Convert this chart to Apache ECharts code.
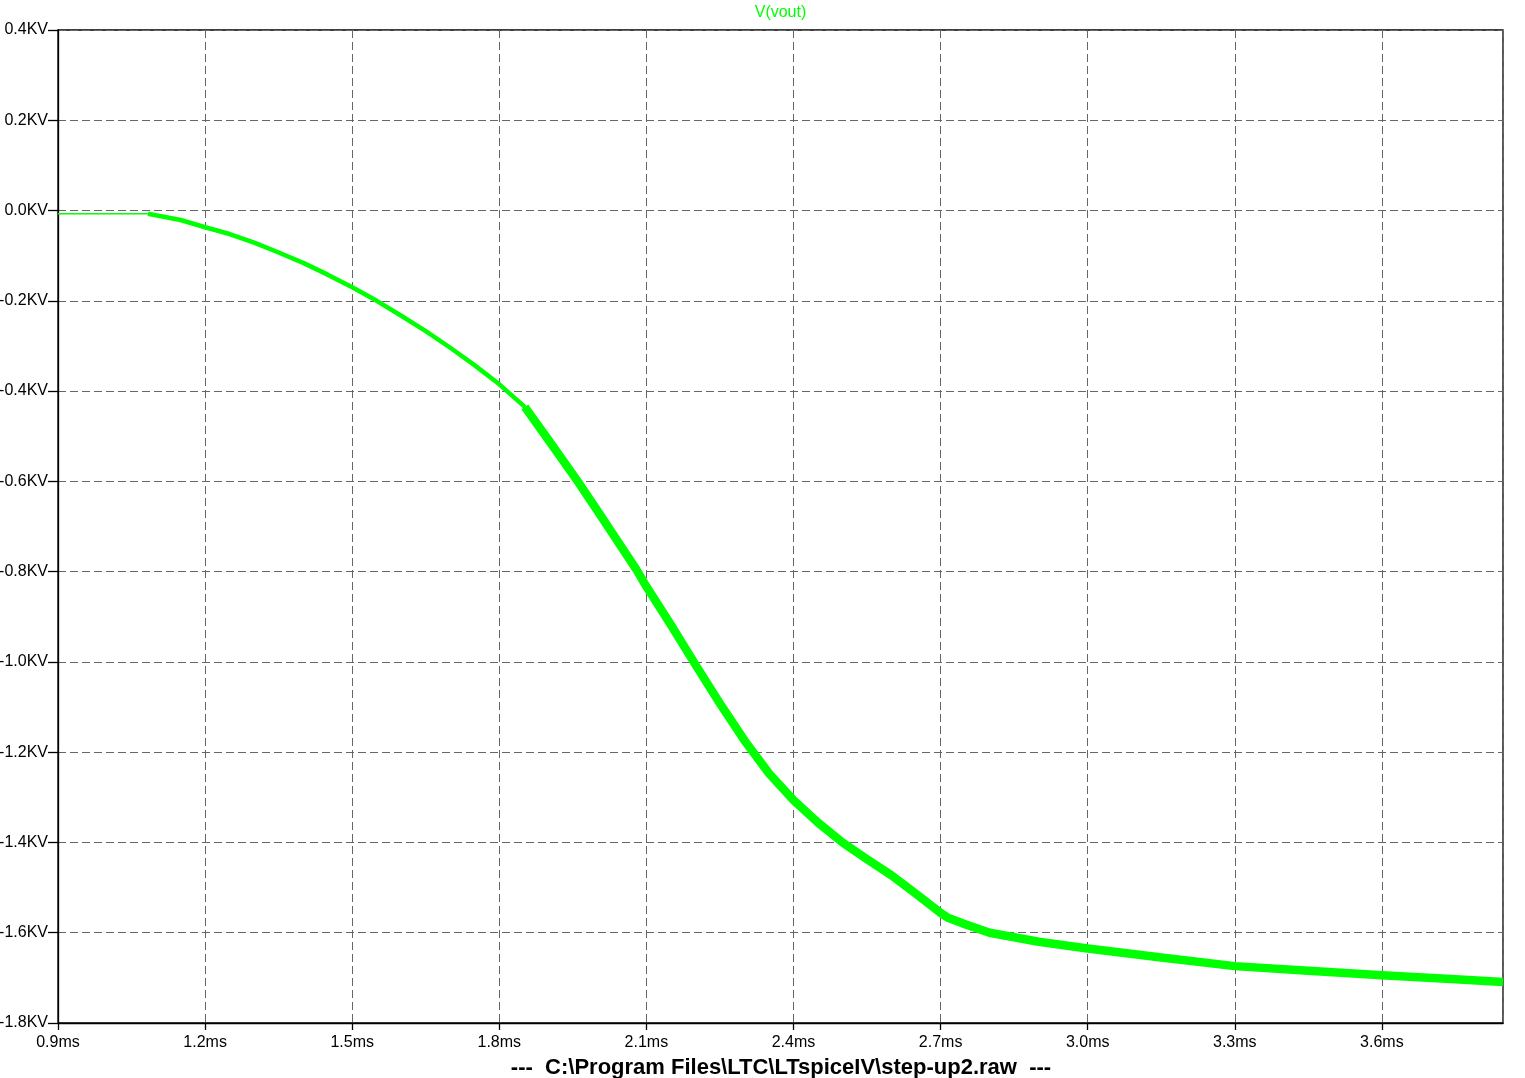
<!DOCTYPE html>
<html>
<head>
<meta charset="utf-8">
<script src="https://cdn.jsdelivr.net/npm/echarts@6/dist/echarts.min.js"></script>
<style>
html,body{margin:0;padding:0;background:#fff;}
#c{width:1525px;height:1078px;}
</style>
</head>
<body>
<div id="c"></div>
<script>
// Time (ms) and voltage (KV) values
const flatT = [0.9, 1.0835];
const flatV = [-0.007, -0.007];
const earlyT = [1.0835, 1.15, 1.2, 1.25, 1.3, 1.35, 1.4, 1.45, 1.5, 1.55, 1.6, 1.65, 1.7, 1.75, 1.8, 1.852];
const earlyV = [-0.007, -0.021, -0.037, -0.052, -0.071, -0.093, -0.116, -0.142, -0.170, -0.200, -0.233, -0.267, -0.304, -0.343, -0.385, -0.435];
const mainT = [1.852, 1.9, 1.96, 2.0, 2.05, 2.08, 2.1, 2.15, 2.2, 2.25, 2.3, 2.35, 2.4, 2.45, 2.5, 2.55, 2.6, 2.65, 2.7, 2.715, 2.75, 2.8, 2.9, 3.0, 3.15, 3.3, 3.45, 3.6, 3.75, 3.847];
const mainV = [-0.435, -0.508, -0.600, -0.665, -0.747, -0.796, -0.833, -0.918, -1.006, -1.092, -1.174, -1.247, -1.306, -1.356, -1.400, -1.437, -1.473, -1.514, -1.556, -1.567, -1.581, -1.600, -1.620, -1.635, -1.655, -1.674, -1.684, -1.694, -1.703, -1.709];
const xMin = 0.9, xMax = 3.847, xStep = 0.3;
const yMin = -1.8, yMax = 0.4, yStep = 0.2;
const titleText = 'V(vout)';
const fileText = '---  C:\\Program Files\\LTC\\LTspiceIV\\step-up2.raw  ---';

const zip = (a, b) => a.map((t, i) => [t, b[i]]);
const chart = echarts.init(document.getElementById('c'), null, {renderer: 'canvas'});
const FONT = '"Liberation Sans", Arial, sans-serif';
const green = '#00ff00';
chart.setOption({
  animation: false,
  backgroundColor: '#ffffff',
  title: [
    {text: titleText, left: 775.5, top: 0, textAlign: 'center',
     textStyle: {color: green, fontSize: 16, fontWeight: 'normal', fontFamily: FONT}},
    {text: fileText, left: 776, top: 1052, textAlign: 'center',
     textStyle: {color: '#000', fontSize: 22, fontWeight: 'bold', fontFamily: FONT}}
  ],
  grid: {left: 58, right: 22, top: 30, bottom: 55, outerBoundsMode: 'none', containLabel: false,
    show: true, borderColor: '#000', borderWidth: 1.3, backgroundColor: 'transparent'},
  xAxis: {
    type: 'value', min: xMin, max: xMax, interval: xStep,
    axisLine: {show: true, onZero: false, lineStyle: {color: '#000', width: 1.3}},
    axisTick: {show: true, length: 7, lineStyle: {color: '#000', width: 1.3}},
    axisLabel: {show: true, showMaxLabel: false, color: '#000', fontSize: 16, fontFamily: FONT, margin: 12,
      formatter: v => v.toFixed(1) + 'ms'},
    splitLine: {show: true, lineStyle: {color: '#666', type: [8, 4], width: 1}}
  },
  yAxis: {
    type: 'value', min: yMin, max: yMax, interval: yStep,
    axisLine: {show: true, onZero: false, lineStyle: {color: '#000', width: 1.3}},
    axisTick: {show: true, length: 10, lineStyle: {color: '#000', width: 1.3}},
    axisLabel: {show: true, color: '#000', fontSize: 16, fontFamily: FONT, margin: 10,
      formatter: v => (Math.abs(v) < 1e-9 ? 0 : v).toFixed(1) + 'KV'},
    splitLine: {show: true, lineStyle: {color: '#666', type: [8, 4], width: 1}}
  },
  series: [
    {type: 'line', data: zip(flatT, flatV), showSymbol: false, lineStyle: {color: green, width: 1.5}, z: 3},
    {type: 'line', data: zip(earlyT, earlyV), showSymbol: false, smooth: false, lineStyle: {color: green, width: 4.5, join: 'round'}, z: 3},
    {type: 'line', data: zip(mainT, mainV), showSymbol: false, smooth: false, lineStyle: {color: green, width: 8.5, join: 'round'}, z: 3}
  ]
});
</script>
</body>
</html>
